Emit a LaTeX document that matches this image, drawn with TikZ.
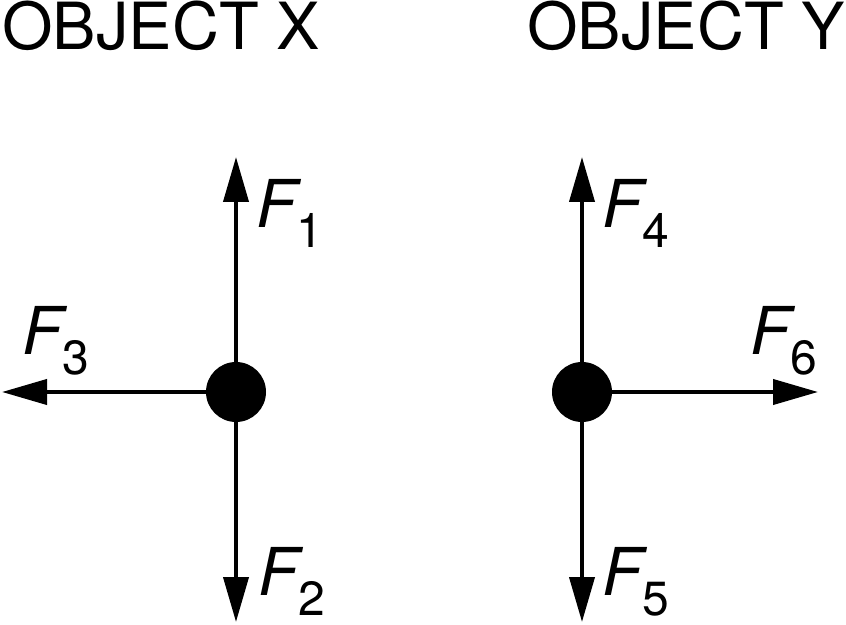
\documentclass[tikz,border=0pt]{standalone}
\usepackage{fontspec}
\setmainfont{TeX Gyre Heros}
\usetikzlibrary{arrows.meta}

\newcommand{\forcelabel}[1]{\fontsize{33}{33}\selectfont\textit{F}\kern-2.5pt\raisebox{-10pt}{\fontsize{24}{24}\selectfont #1}}

\begin{document}
\begin{tikzpicture}[x=0.5pt,y=-0.5pt,
		force/.style={line width=2pt,-{Triangle[length=22.5pt,width=12.5pt]}},
		dot/.style={circle,fill=black,inner sep=0pt,minimum size=30pt},
		title/.style={anchor=base west,inner sep=0pt,font=\fontsize{32.5}{32.5}\selectfont},
		flabel/.style={anchor=base west,inner sep=0pt}]
	\useasboundingbox (0,0) rectangle (846,625);

	\node[title] (titleX) at (2,50) {OBJECT X};
	\node[title] (titleY) at (527,50) {OBJECT Y};

	\coordinate (cX) at (236,392);
	\coordinate (cY) at (582,392);
	\coordinate (tip1) at (236,157);
	\coordinate (tip2) at (236,622);
	\coordinate (tip3) at (2,392);
	\coordinate (tip4) at (582,157);
	\coordinate (tip5) at (582,622);
	\coordinate (tip6) at (818,392);

	% object X
	\draw[force] (cX) -- (tip1);
	\draw[force] (cX) -- (tip2);
	\draw[force] (cX) -- (tip3);
	\node[dot] (dotX) at (cX) {};

	% object Y
	\draw[force] (cY) -- (tip4);
	\draw[force] (cY) -- (tip5);
	\draw[force] (cY) -- (tip6);
	\node[dot] (dotY) at (cY) {};

	\node[flabel] (f1) at (256,228) {\forcelabel{1}};
	\node[flabel] (f2) at (258,595) {\forcelabel{2}};
	\node[flabel] (f3) at (22,355) {\forcelabel{3}};
	\node[flabel] (f4) at (602,228) {\forcelabel{4}};
	\node[flabel] (f5) at (602,595) {\forcelabel{5}};
	\node[flabel] (f6) at (750,355) {\forcelabel{6}};

\end{tikzpicture}
\end{document}
